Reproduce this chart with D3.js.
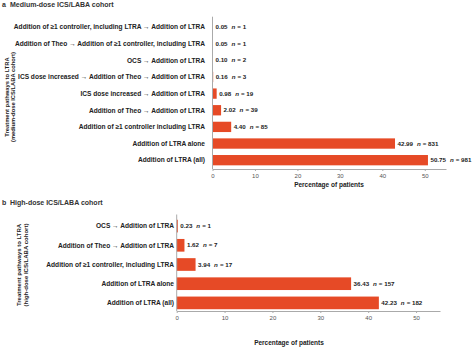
<!DOCTYPE html>
<html>
<head>
<meta charset="utf-8">
<script src="https://cdn.jsdelivr.net/npm/d3@7"></script>
<style>
  body { margin: 0; background: #fff; }
  svg { font-family: "Liberation Sans", Arial, sans-serif; }
</style>
</head>
<body>
<svg width="474" height="347"></svg>
<script>
"use strict";

// Medium-dose cohort
var catsA = [
    "Addition of \u22651 controller, including LTRA \u2192 Addition of LTRA",
    "Addition of Theo \u2192 Addition of \u22651 controller, including LTRA",
    "OCS \u2192 Addition of LTRA",
    "ICS dose increased \u2192 Addition of Theo \u2192 Addition of LTRA",
    "ICS dose increased \u2192 Addition of LTRA",
    "Addition of Theo \u2192 Addition of LTRA",
    "Addition of \u22651 controller including LTRA",
    "Addition of LTRA alone",
    "Addition of LTRA (all)"
];
var valsA = [0.05, 0.05, 0.10, 0.16, 0.98, 2.02, 4.40, 42.99, 50.75];
var nA = [1, 1, 2, 3, 19, 39, 85, 831, 981];

// High-dose cohort
var catsB = [
    "OCS \u2192 Addition of LTRA",
    "Addition of Theo \u2192 Addition of LTRA",
    "Addition of \u22651 controller, including LTRA",
    "Addition of LTRA alone",
    "Addition of LTRA (all)"
];
var valsB = [0.23, 1.62, 3.94, 36.43, 42.23];
var nB = [1, 7, 17, 157, 182];

var ticks = [0, 10, 20, 30, 40, 50];

var svg = d3.select("svg");
var barColor = "#e64a26";

var drawPanel = function(opt) {
    var g = svg.append("g");

    var x = d3.scaleLinear().domain([0, 55]).range([opt.x0, opt.x1]);
    var y = d3.scaleBand().domain(opt.cats).range([opt.y0, opt.y1]).paddingInner(opt.pad).paddingOuter(opt.pad / 2);

    // Panel title
    var t = g.append("text")
        .attr("x", 2)
        .attr("y", opt.titleY)
        .style("font-size", "7px")
        .style("font-weight", "bold")
        .attr("fill", "#333");
    t.append("tspan").text(opt.letter);
    t.append("tspan").attr("x", 10).text(opt.title);

    // Bars
    g.selectAll("rect.bar")
        .data(opt.vals)
        .enter().append("rect")
            .attr("class", "bar")
            .attr("x", x(0))
            .attr("y", function(d, i) { return y(opt.cats[i]); })
            .attr("width", function(d) { return x(d) - x(0); })
            .attr("height", y.bandwidth())
            .attr("fill", barColor);

    // Category labels
    g.selectAll("text.cat")
        .data(opt.cats)
        .enter().append("text")
            .attr("class", "cat")
            .attr("x", opt.labelX)
            .attr("y", function(d) { return y(d) + y.bandwidth() / 2; })
            .attr("dy", "0.35em")
            .attr("text-anchor", "end")
            .style("font-size", opt.catSize)
            .style("font-weight", "bold")
            .attr("fill", "#222")
            .text(function(d) { return d; });

    // Value labels
    var vl = g.selectAll("text.val")
        .data(opt.vals)
        .enter().append("text")
            .attr("class", "val")
            .attr("x", function(d) { return Math.max(x(d), x(0) + 0.5) + 2.5; })
            .attr("y", function(d, i) { return y(opt.cats[i]) + y.bandwidth() / 2; })
            .attr("dy", "0.35em")
            .style("font-size", "6.2px")
            .style("font-weight", "bold")
            .attr("fill", "#222");
    vl.append("tspan").text(function(d) { return d.toFixed(2); });
    vl.append("tspan").attr("dx", 4).style("font-style", "italic").text("n");
    vl.append("tspan").attr("dx", 2).text(function(d, i) { return "= " + opt.ns[i]; });

    // Axes
    var axis = d3.axisBottom(x).tickValues(ticks).tickSize(2).tickSizeOuter(0);
    var ax = g.append("g")
        .attr("transform", "translate(0," + opt.axisY + ")")
        .call(axis);
    ax.select(".domain").attr("stroke", "#aaa");
    ax.selectAll(".tick line").attr("stroke", "#aaa");
    ax.selectAll(".tick text")
        .attr("y", 5)
        .style("font-size", "6px")
        .style("font-family", "\"Liberation Sans\", Arial, sans-serif")
        .attr("fill", "#555");

    g.append("line")
        .attr("x1", x(0)).attr("x2", x(0))
        .attr("y1", opt.y0 - 2).attr("y2", opt.axisY)
        .attr("stroke", "#aaa");

    // Axis title
    g.append("text")
        .attr("x", opt.xTitleX)
        .attr("y", opt.xTitleY)
        .attr("text-anchor", "middle")
        .style("font-size", "6.5px")
        .style("font-weight", "bold")
        .attr("fill", "#222")
        .text("Percentage of patients");

    var yt = g.append("text")
        .attr("transform", "translate(" + opt.yTitleX + "," + opt.yTitleY + ") rotate(-90)")
        .attr("text-anchor", "middle")
        .style("font-size", opt.yTitleSize)
        .style("font-weight", "bold")
        .attr("fill", "#222");
    yt.append("tspan").attr("x", 0).attr("y", 0).text("Treatment pathways to LTRA");
    yt.append("tspan").attr("x", 0).attr("y", opt.yTitleGap).text(opt.yTitle2);
};

drawPanel({
    letter: "a", title: "Medium-dose ICS/LABA cohort", titleY: 7,
    cats: catsA, vals: valsA, ns: nA,
    x0: 212.5, x1: 446, y0: 18.7, y1: 168.5, pad: 0.38, axisY: 169,
    labelX: 205, catSize: "6.6px",
    xTitleX: 329, xTitleY: 187,
    yTitleX: 9, yTitleY: 97, yTitleSize: "5.8px", yTitleGap: 6,
    yTitle2: "(medium-dose ICS/LABA cohort)"
});

drawPanel({
    letter: "b", title: "High-dose ICS/LABA cohort", titleY: 205,
    cats: catsB, vals: valsB, ns: nB,
    x0: 176.7, x1: 440, y0: 216.5, y1: 312.5, pad: 0.34, axisY: 311,
    labelX: 174, catSize: "6.6px",
    xTitleX: 289, xTitleY: 345,
    yTitleX: 21, yTitleY: 265, yTitleSize: "6px", yTitleGap: 7,
    yTitle2: "(high-dose ICS/LABA cohort)"
});
</script>
</body>
</html>
